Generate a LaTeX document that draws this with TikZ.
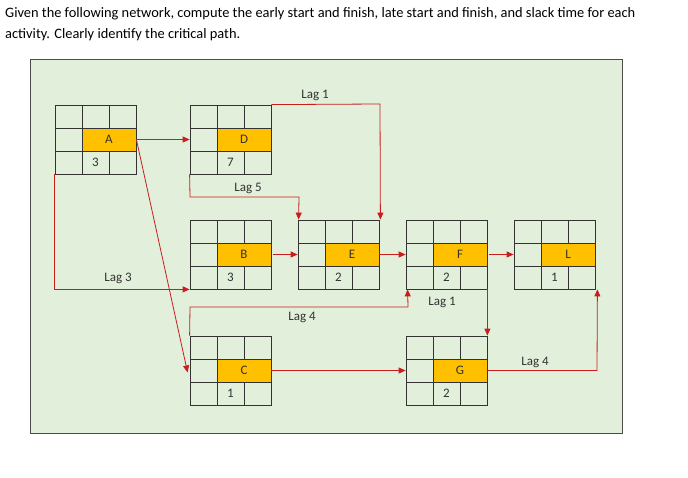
\documentclass[tikz,border=0pt]{standalone}
\usepackage{fontspec}
\setmainfont{Carlito}
\usetikzlibrary{arrows.meta}
\definecolor{bggreen}{RGB}{226,239,218}
\definecolor{actorange}{RGB}{255,192,0}
\definecolor{lagred}{RGB}{200,30,30}
\begin{document}
\begin{tikzpicture}[yscale=-1,x=1pt,y=1pt
,act/.style={draw=black!80,line width=0.8pt,minimum width=81pt,minimum height=69pt,inner sep=0pt}
,link/.style={draw=lagred,line width=0.8pt,-{Triangle[length=7pt,width=6pt]}}
,lbl/.style={font=\fontsize{13}{15}\selectfont,text=black!80}
]
\useasboundingbox (0,0) rectangle (688,478);
\node[anchor=north west,align=left,font=\fontsize{14.4}{21}\selectfont,inner sep=0pt] at (5,7)
 {Given the following network, compute the early start and finish, late start and finish, and slack time for each\\activity. Clearly identify the critical path.};
\draw[fill=bggreen,draw=black!70,line width=1pt] (30,60) rectangle (622,433);
% activity box: name, centre x, centre y, label, duration
\newcommand\actbox[5]{%
 \fill[actorange] (#2-13.5,#3-11.5) rectangle (#2+40.5,#3+11.5);
 \node[act] (#1) at (#2,#3) {};
 \draw[black!80,line width=0.8pt] (#2-13.5,#3-34.5) -- (#2-13.5,#3+34.5)
   (#2+13.5,#3-34.5) -- (#2+13.5,#3-11.5)
   (#2+13.5,#3+11.5) -- (#2+13.5,#3+34.5)
   (#2-40.5,#3-11.5) -- (#2+40.5,#3-11.5)
   (#2-40.5,#3+11.5) -- (#2+40.5,#3+11.5);
 \node[lbl] at (#2+13.5,#3) {#4};
 \node[lbl] at (#2,#3+23) {#5};}
\actbox{a}{95.5}{139.5}{A}{3}
\actbox{d}{230.5}{139.5}{D}{7}
\actbox{b}{230.5}{254.5}{B}{3}
\actbox{e}{338.5}{254.5}{E}{2}
\actbox{f}{446.5}{254.5}{F}{2}
\actbox{l}{554.5}{254.5}{L}{1}
\actbox{c}{230.5}{370.5}{C}{1}
\actbox{g}{446.5}{370.5}{G}{2}
% links
\draw[link] (a.east) -- (d.west);
\draw[link] (a.east) -- ([xshift=-2pt,yshift=2pt]c.west);
\draw[link] (a.south west) |- (b.south west);
\node[lbl] at (118,278) {Lag 3};
\draw[link] (d.north east) -- (380,104) -- ([xshift=1pt]e.north east);
\node[lbl] at (315,95) {Lag 1};
\draw[link] (d.south west) -- (190,197) -- (299,197) -- ([xshift=1pt]e.north west);
\node[lbl] at (248,188) {Lag 5};
\draw[link] ([xshift=2pt]b.east) -- (e.west);
\draw[link] (e.east) -- (f.west);
\draw[link] ([xshift=2pt]f.east) -- (l.west);
\draw[link] (c.north west) -- (190,307) -- (408,307) -- ([xshift=2pt]f.south west);
\node[lbl] at (302,317) {Lag 4};
\draw[link] (f.south east) -- (g.north east);
\node[lbl] at (442,302) {Lag 1};
\draw[link] (c.east) -- (g.west);
\draw[link] (g.east) -- (597,370.5) -- ([xshift=2pt]l.south east);
\node[lbl] at (535,362) {Lag 4};
\end{tikzpicture}
\end{document}
